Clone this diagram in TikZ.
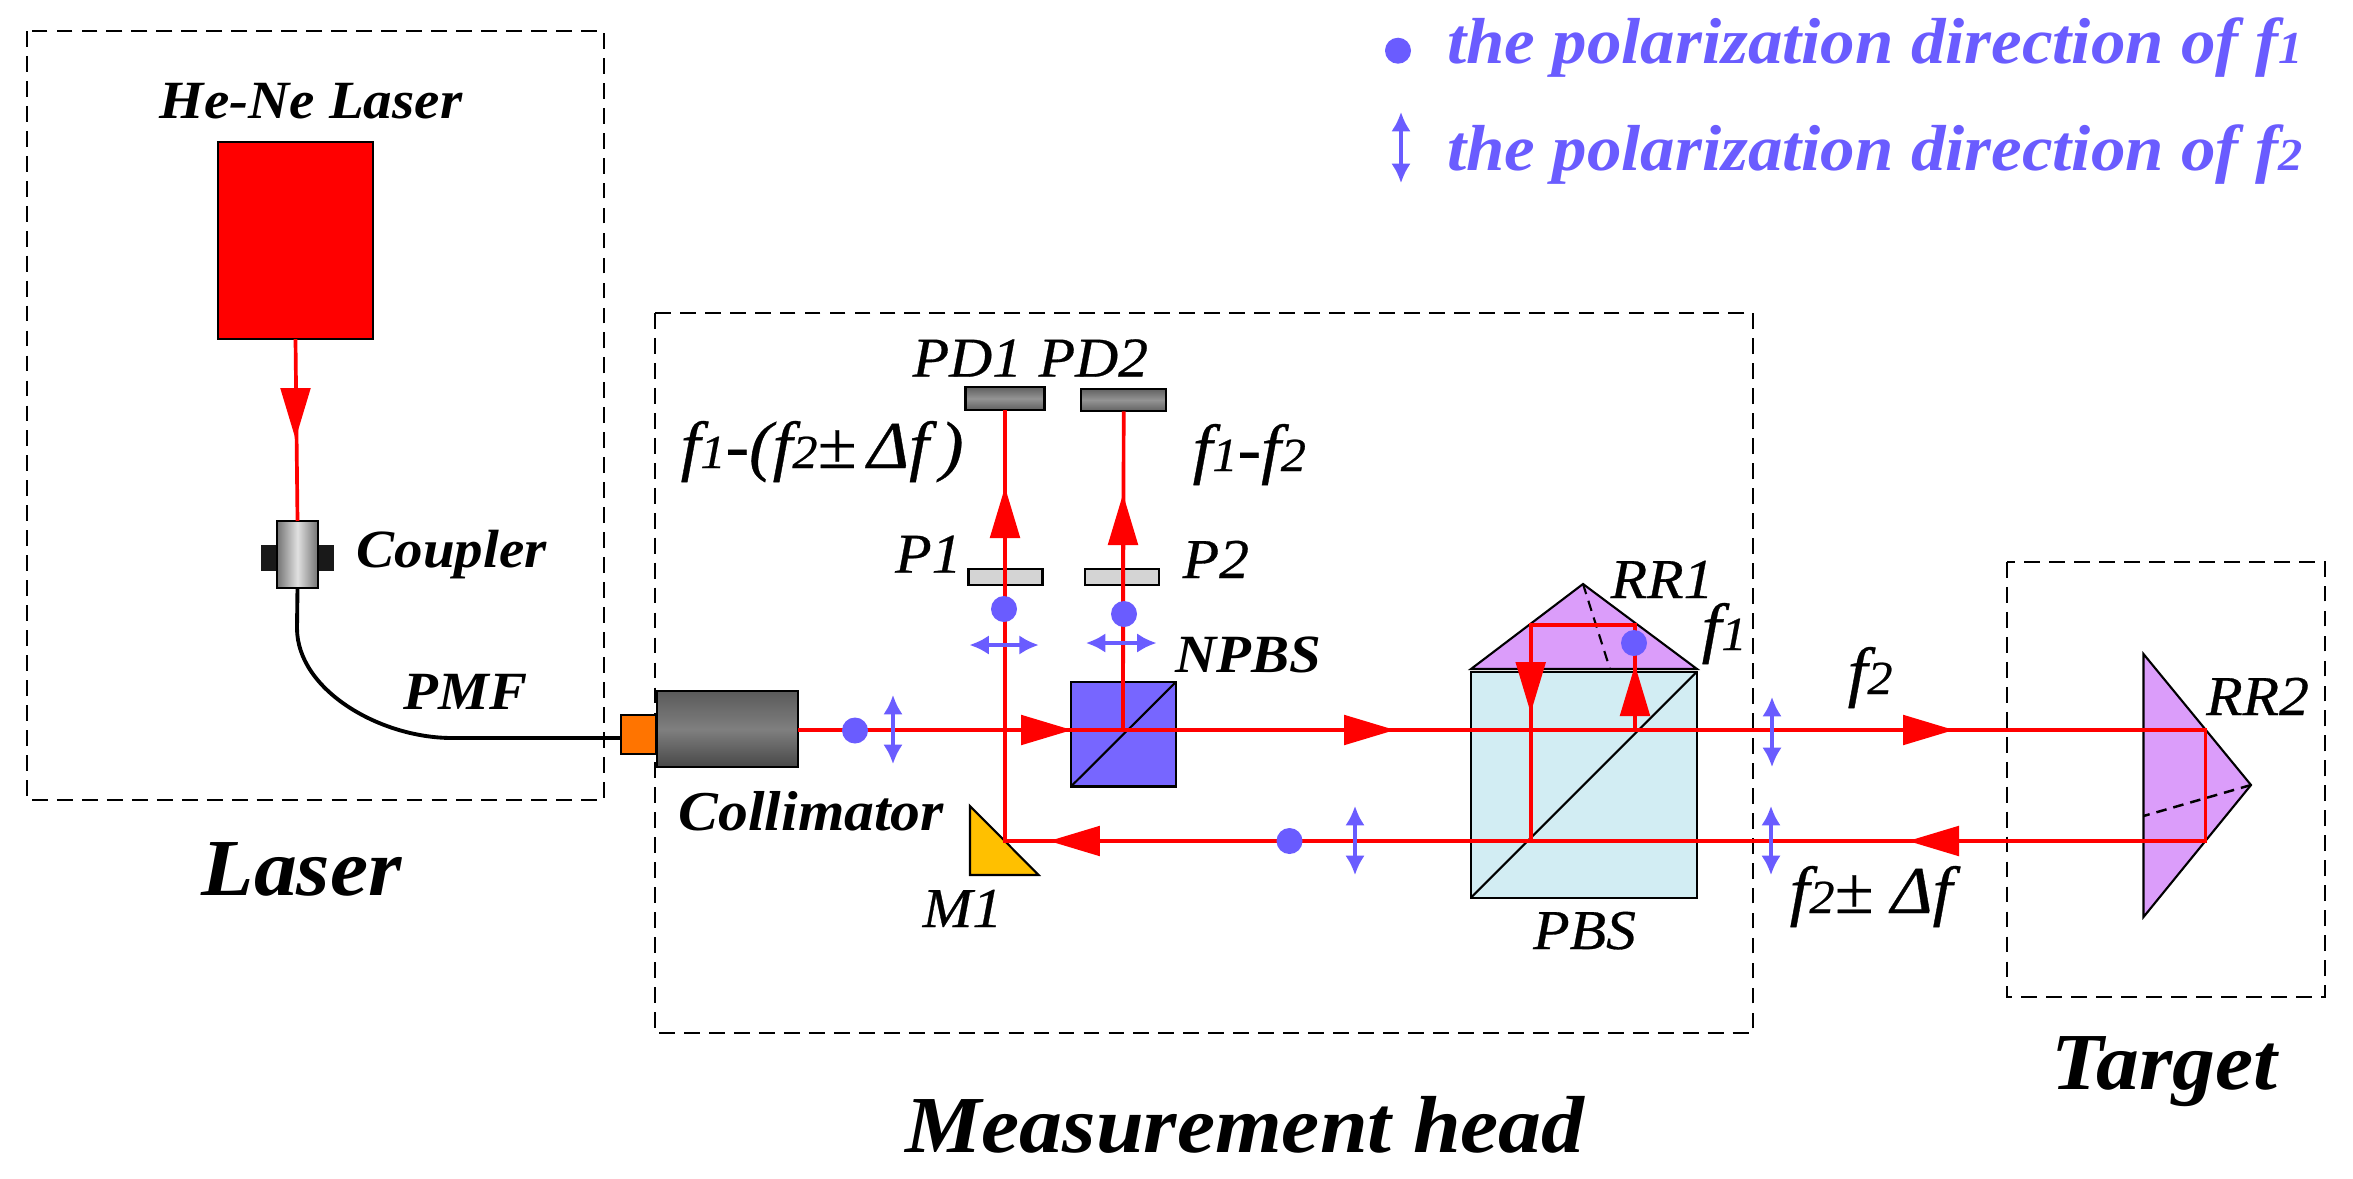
\documentclass[tikz,border=0pt]{standalone}
\usepackage{fontspec}
\setmainfont{Liberation Serif}[FakeStretch=1.06]
\newfontfamily\semifont{Liberation Serif}[FakeStretch=1.06,FakeBold=.5]
\usetikzlibrary{arrows.meta}
\definecolor{polblue}{HTML}{6A5CFF}
\definecolor{cubeblue}{HTML}{7766FF}
\definecolor{pbsblue}{HTML}{D2EDF3}
\definecolor{prismviolet}{HTML}{DB9DFA}
\definecolor{mirrorgold}{HTML}{FFC000}
\definecolor{portorange}{HTML}{FF7400}
\newcommand\fsz[1]{\fontsize{#1}{#1}\selectfont}
\newcommand\fsub[2]{f{\fsz{#1}#2}}
\tikzset{
  part/.style={draw=black,line width=.6pt,inner sep=0,outer sep=0},
  beam/.style={draw=red,line width=1.05pt},
  tip/.style={-{Triangle[width=8.4pt,length=14.5pt]}},
  pol/.style={draw=polblue,line width=.9pt,{Latex[width=5.5pt,length=5.5pt]}-{Latex[width=5.5pt,length=5.5pt]}},
  poldot/.style={circle,fill=polblue,inner sep=0,minimum size=.26cm},
  frame/.style={draw=black,line width=.6pt,dash pattern=on 4.5pt off 2.6pt},
  lab/.style={anchor=base west,inner sep=0,font=\fsz{16}\semifont\itshape},
  labb/.style={lab,font=\fsz{15.3}\bfseries\itshape},
  labbig/.style={lab,font=\fsz{23}\bfseries\itshape},
  labf/.style={lab,font=\fsz{19}\semifont\itshape},
  lableg/.style={lab,text=polblue,font=\fsz{18.5}\bfseries\itshape}
}
\begin{document}
\begin{tikzpicture}[x=.01cm,y=-.01cm]
\useasboundingbox (0,0) rectangle (2353,1178);
\path[frame] (27,31) rectangle (604,800);
\path[frame] (655,313) rectangle (1753,1033);
\path[frame] (2007,562) rectangle (2325,997);

% laser arm
\node[part,fill=red,minimum width=1.55cm,minimum height=1.97cm] at (295.5,240.5)(laser){};
\foreach \x in {269,325.5}{
    \fill[black!90] (\x-8,545) rectangle (\x+8,571);
}
\node[part,left color=black!55,right color=black!55,middle color=black!12,minimum width=.41cm,minimum height=.67cm] at (297.5,554.5)(coupler){};
\node[part,fill=portorange,minimum width=.35cm,minimum height=.39cm] at (638.5,734.5)(port){};
\node[part,top color=black!65,bottom color=black!72,middle color=black!50,minimum width=1.415cm,minimum height=.765cm] at (727.5,729)(colli){};
\coordinate (fibrebend) at (297,628);
\coordinate (fibreflat) at (452,738);
\coordinate (fibreend) at (621,738);
\draw[line width=1.1pt] (coupler.south) -- (fibrebend) .. controls (297,690) and (380,738) .. (fibreflat) -- (fibreend);
\draw[beam] (laser.south) -- (coupler.north);

% head
\node[part,fill=pbsblue,minimum width=2.26cm,minimum height=2.26cm] at (1584,784.7)(pbs){};
\draw[line width=.6pt] (pbs.south west) -- (pbs.north east);
\path[part,fill=prismviolet] (1471,669) -- (1583,584) -- (1697,669) -- cycle;
\draw[line width=.6pt,densely dashed] (1583,584) -- (1610,669);
\draw[line width=.6pt] (pbs.north west) -- (pbs.north east);
\path[part,fill=mirrorgold] (970,806) -- (970,875) -- (1038.6,875) -- cycle;
\path[part,fill=prismviolet] (2143.5,654) -- (2251,785) -- (2143.5,917) -- cycle;
\draw[line width=.7pt,densely dashed] (2251,785) -- (2143.5,816);
\node[part,fill=cubeblue,minimum width=1.05cm,minimum height=1.045cm] at (1123.5,734.2)(npbs){};
\draw[line width=.6pt] (npbs.south west) -- (npbs.north east);
\foreach \n/\x/\y/\w in {pda/1005/398.5/.79,pdb/1123.7/400/.845}{
    \node[part,top color=black!62,bottom color=black!62,middle color=black!42,minimum width=\w cm,minimum height=.225cm] at (\x,\y)(\n){};
}
\node[part,fill=black!17,minimum width=.74cm,minimum height=.165cm] at (1122,577)(pb){};

% beams
\coordinate (colliout) at (798,730);
\coordinate (hitnpbs) at (1123,730);
\coordinate (hitpbsa) at (1635,730);
\coordinate (hitpbsb) at (1530.7,841);
\coordinate (rra) at (1530.7,625);
\coordinate (rrb) at (1635,625);
\coordinate (hitrra) at (2205.5,730);
\coordinate (hitrrb) at (2205.5,841);
\coordinate (hitmirror) at (1005,841);
\draw[beam] (colliout) -- (hitrra) -- (hitrrb) -- (hitmirror) -- (pda.south);
\draw[beam] (hitnpbs) -- (pdb.south);
\draw[beam] (hitpbsa) -- (rrb) -- (rra) -- (hitpbsb);
\node[part,fill=black!17,minimum width=.74cm,minimum height=.165cm] at (1005.5,577)(pa){};
\foreach \s/\xb/\yb in {laser.south/295.5/439,hitmirror/1005/487,hitnpbs/1123/494,colliout/1072/730,colliout/1395/730,colliout/1954/730,hitrrb/1908/841,hitpbsb/1049/841,rra/1530.7/713,hitpbsa/1635/665}{
    \draw[beam,tip] (\s) -- (\xb,\yb);
}

% polarization marks
\foreach \n/\x/\y in {da/1004/609,db/1124/614,dc/855/730.5,dd/1289.5/841,de/1634/643,df/1398/50.7}{
    \node[poldot] at (\x,\y)(\n){};
}
\foreach \n/\xa/\ya/\xb/\yb in {ma/969.5/645/1038.7/645,mb/1086/643/1156.5/643,mc/893/695/893/764,md/1355/806/1355/875,me/1772/697/1772/767,mf/1771/806/1771/875,mg/1401/112/1401/183}{
    \coordinate (\n a) at (\xa,\ya);
    \coordinate (\n b) at (\xb,\yb);
    \draw[pol] (\n a) -- (\n b);
}

% labels
\foreach \n/\x/\y/\t in {lhene/159/118/He-Ne Laser,lcoupler/356/567/Coupler,lpmf/403/709/PMF,lnpbs/1175/672.5/NPBS}{
    \node[labb] at (\x,\y)(\n){\t};
}
\node[labb,font=\fsz{16}\bfseries\itshape] at (678,830)(lcolli){Collimator};
\foreach \n/\x/\y/\t in {lpda/912/376.6/PD1,lpdb/1038/376.6/PD2,lpa/894.5/572.7/P1,lpb/1182/578/P2,lmirror/922/927/M1,lrra/1610/598/RR1,lrrb/2205.5/715/RR2,lpbs/1532.5/949/PBS}{
    \node[lab] at (\x,\y)(\n){\t};
}
\node[labf] at (680,468)(lbeat){\fsub{13.5}{1}-(\fsub{13.5}{2}±\,Δf\,)};
\node[labf] at (1192,471)(lref){\fsub{13.5}{1}-\fsub{13.5}{2}};
\node[labf] at (1701,650)(lfa){\fsub{13.5}{1}};
\node[labf] at (1847,694)(lfb){\fsub{13.5}{2}};
\node[labf] at (1789,913)(lfc){\fsub{13.5}{2}± Δf};
\node[labbig] at (201,895)(llaser){Laser};
\node[labbig] at (905,1152)(lhead){Measurement head};
\node[labbig] at (2051,1089)(ltarget){Target};
\node[lableg] at (1446.6,63)(lega){the polarization direction of \fsub{13}{1}};
\node[lableg] at (1446.6,170)(legb){the polarization direction of \fsub{13}{2}};
\end{tikzpicture}
\end{document}
